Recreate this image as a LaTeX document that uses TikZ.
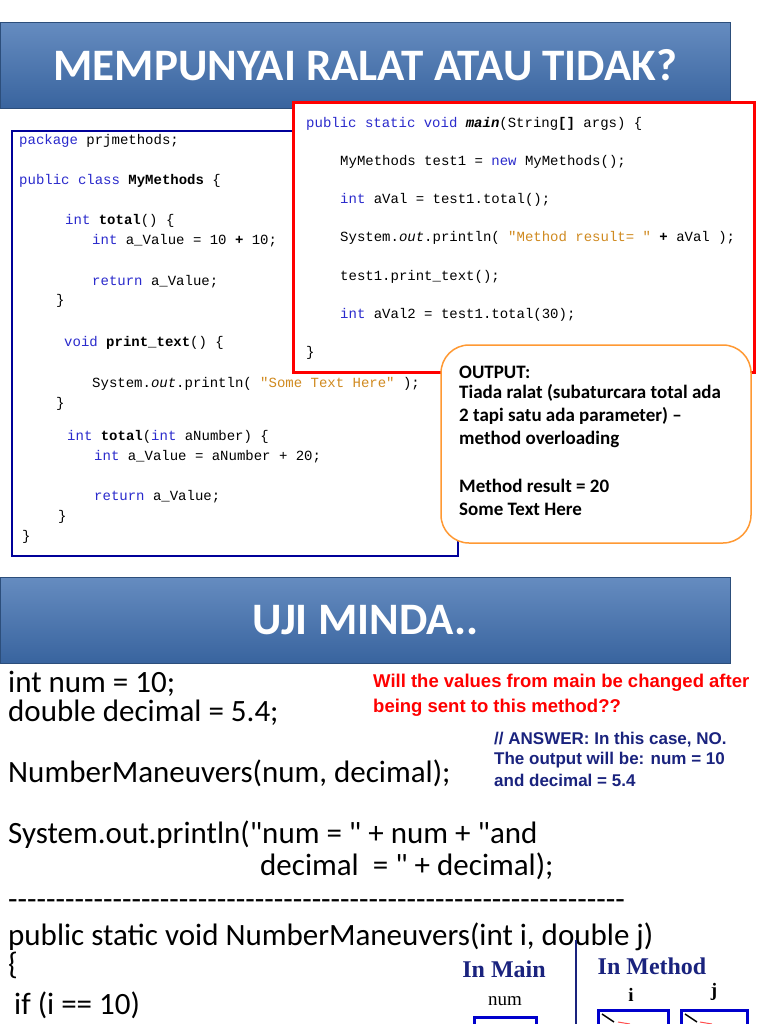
\documentclass[tikz,border=0pt]{standalone}
\usepackage{fontspec}
\setmainfont{Carlito}[Mapping=]
\newfontfamily\mono{Liberation Mono}
\newfontfamily\ars{Liberation Sans}
\newfontfamily\tms{Liberation Serif}
\definecolor{kw}{HTML}{2A2ACC}
\definecolor{strc}{HTML}{D08A20}
\definecolor{bann}{HTML}{3F6FB0}
\definecolor{navy}{HTML}{1A237E}
\newcommand\dq{\symbol{34}}
\newcommand\dsh{\symbol{45}}
\newcommand\desh{\dsh\dsh\dsh\dsh\dsh\dsh\dsh\dsh}
\begin{document}
\begin{tikzpicture}[x=1pt,y=-1pt,
  code/.style={anchor=west,inner sep=0pt,font=\mono\fontsize{14}{16}\selectfont},
  big/.style={anchor=west,inner sep=0pt,font=\fontsize{31}{34}\selectfont},
  outl/.style={anchor=west,inner sep=0pt,font=\bfseries\fontsize{19}{21}\selectfont},
  banner/.style={draw=bann!70!black,top color=bann!80!white,bottom color=bann!90!black,minimum width=730pt,minimum height=86pt,anchor=north west,inner sep=0pt,text=white,font=\bfseries\fontsize{45}{50}\selectfont},
  vbox/.style={draw=blue!80!black,line width=3pt}]
\useasboundingbox (0,0) rectangle (768,1024);
\fill[white] (0,0) rectangle (768,1024);
\node[banner] (b1) at (0,22) {MEMPUNYAI RALAT ATAU TIDAK?};
\node[banner] (b2) at (0,577) {UJI MINDA..};
% left code box
\draw[draw=blue!60!black,line width=1.2pt] (12,131) rectangle (458,556);
\node[code] (l1) at (19,141) {\textcolor{kw}{package} prjmethods;};
\node[code] (l2) at (19,181) {\textcolor{kw}{public class} \textbf{MyMethods} \{};
\node[code] (l3) at (65,221) {\textcolor{kw}{int} \textbf{total}() \{};
\node[code] (l4) at (92,241) {\textcolor{kw}{int} a\_Value = 10 \textbf{+} 10;};
\node[code] (l5) at (92,282) {\textcolor{kw}{return} a\_Value;};
\node[code] (l6) at (56,301) {\}};
\node[code] (l7) at (64,343) {\textcolor{kw}{void} \textbf{print\_text}() \{};
\node[code] (l8) at (92,384) {System.\textit{out}.println( \textcolor{strc}{\dq Some Text Here\dq} );};
\node[code] (l9) at (56,404) {\}};
\node[code] (l10) at (67,437) {\textcolor{kw}{int} \textbf{total}(\textcolor{kw}{int} aNumber) \{};
\node[code] (l11) at (94,457) {\textcolor{kw}{int} a\_Value = aNumber + 20;};
\node[code] (l12) at (94,497) {\textcolor{kw}{return} a\_Value;};
\node[code] (l13) at (58,517) {\}};
\node[code] (l14) at (22,537) {\}};
% red box
\draw[fill=white,draw=red,line width=3pt] (293,103) rectangle (754,372);
\node[code] (m1) at (306,124) {\textcolor{kw}{public static void} \textbf{\textit{main}}(String\textbf{[]} args) \{};
\node[code] (m2) at (340,162) {MyMethods test1 = \textcolor{kw}{new} MyMethods();};
\node[code] (m3) at (340,200) {\textcolor{kw}{int} aVal = test1.total();};
\node[code] (m4) at (340,238) {System.\textit{out}.println( \textcolor{strc}{\dq Method result= \dq} \textbf{+} aVal );};
\node[code] (m5) at (340,277) {test1.print\_text();};
\node[code] (m6) at (340,315) {\textcolor{kw}{int} aVal2 = test1.total(30);};
\node[code] (m7) at (306,353) {\}};
% output box
\draw[fill=white,draw=orange!80!white,line width=1.5pt,rounded corners=28pt] (441,345) rectangle (751,543);
\node[outl] (o1) at (459,372) {OUTPUT:};
\node[outl] (o2) at (459,393) {Tiada ralat (subaturcara total ada};
\node[outl] (o3) at (459,416) {2 tapi satu ada parameter) –};
\node[outl] (o4) at (459,439) {method overloading};
\node[outl] (o5) at (459,486) {Method result = 20};
\node[outl] (o6) at (459,509) {Some Text Here};
% bottom
\node[big] (t1) at (8,684) {int num = 10;};
\node[big] (t2) at (8,713) {double decimal = 5.4;};
\node[big] (t3) at (8,773) {NumberManeuvers(num, decimal);};
\node[big] (t4) at (8,835) {System.out.println(\dq num = \dq\ + num + \dq and};
\node[big] (t5) at (260,866) {decimal~ = \dq\ + decimal);};
\node[big] (t6) at (8,905) {\desh\desh\desh\desh\desh\desh\desh\desh\dsh};
\node[big] (t7) at (8,937) {public static void NumberManeuvers(int i, double j)};
\node[big] (t8) at (8,965) {\{};
\node[big] (t9) at (14,1005) {if (i == 10)};
\node[anchor=west,inner sep=0pt,text=red,font=\ars\bfseries\fontsize{18.5}{20}\selectfont] (r1) at (373,683) {Will the values from main be changed after};
\node[anchor=west,inner sep=0pt,text=red,font=\ars\bfseries\fontsize{18.5}{20}\selectfont] (r2) at (373,708) {being sent to this method??};
\node[anchor=west,inner sep=0pt,text=navy,font=\ars\bfseries\fontsize{17}{19}\selectfont] (a1) at (494,740) {// ANSWER: In this case, NO.};
\node[anchor=west,inner sep=0pt,text=navy,font=\ars\bfseries\fontsize{17}{19}\selectfont] (a2) at (494,760) {The output will be: num = 10};
\node[anchor=west,inner sep=0pt,text=navy,font=\ars\bfseries\fontsize{17}{19}\selectfont] (a3) at (494,780) {and decimal = 5.4};
% memory picture
\node[inner sep=0pt,text=navy,font=\tms\bfseries\fontsize{24}{26}\selectfont] (im) at (504,969) {In Main};
\node[inner sep=0pt,font=\tms\fontsize{19}{21}\selectfont] (num) at (505,1001) {num};
\node[inner sep=0pt,text=navy,font=\tms\bfseries\fontsize{24}{26}\selectfont] (imt) at (652,966) {In Method};
\node[inner sep=0pt,font=\tms\bfseries\fontsize{19}{21}\selectfont] (vi) at (631,995) {i};
\node[inner sep=0pt,font=\tms\bfseries\fontsize{19}{21}\selectfont] (vj) at (714,992) {j};
\draw[navy,line width=1.2pt] (576,940) -- (576,1024);
\draw[vbox] (474,1017) rectangle (536,1030);
\draw[vbox] (598,1010) rectangle (668,1030);
\draw[vbox] (681,1010) rectangle (747,1030);
\draw[black,line width=1.5pt] (602,1014) -- (614,1022);
\draw[black,line width=1.5pt] (685,1014) -- (697,1022);
\draw[red!70,line width=1pt] (618,1022) -- (630,1024);
\draw[red!70,line width=1pt] (700,1022) -- (712,1024);
\end{tikzpicture}
\end{document}
